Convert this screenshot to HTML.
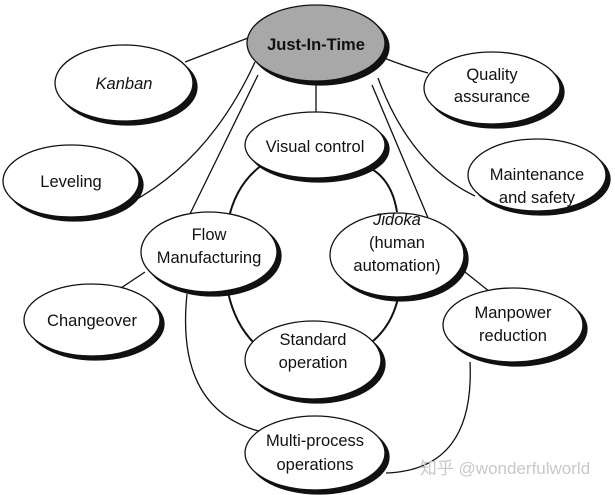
<!DOCTYPE html>
<html><head><meta charset="utf-8"><style>
html,body{margin:0;padding:0;background:#fff;}
svg{display:block;}
text{font-family:"Liberation Sans","Noto Sans CJK SC",sans-serif;font-size:16.5px;fill:#111;text-anchor:middle;}
</style></head><body>
<svg width="615" height="495" viewBox="0 0 615 495" xmlns="http://www.w3.org/2000/svg">
<g fill="none" stroke="#111">
<g stroke-width="1.3">
<path d="M248,38 L185,62"/>
<path d="M255,62 Q210,160 130,203"/>
<path d="M258,75 L188,218"/>
<path d="M316,82 L316,112"/>
<path d="M372,85 L434,232"/>
<path d="M384,58 Q410,68 428,73"/>
<path d="M378,78 Q410,165 475,196"/>
<path d="M145,272 L118,290"/>
<path d="M460,268 L490,292"/>
<path d="M187,294 Q175,410 262,432"/>
<path d="M470,362 Q475,470 386,473"/>
</g>
<g stroke-width="2">
<path d="M262,165 Q235,185 228,222"/>
<path d="M370,168 Q392,180 397,212"/>
<path d="M228,292 Q235,325 256,345"/>
<path d="M398,298 Q392,325 372,342"/>
</g>
</g>
<g stroke="#111" stroke-width="1.3">
<ellipse cx="320" cy="47" rx="69" ry="38" fill="#111"/><ellipse cx="316" cy="43" rx="69" ry="38" fill="#a8a8a8"/>
<ellipse cx="128" cy="87" rx="69" ry="38" fill="#111"/><ellipse cx="124" cy="83" rx="69" ry="38" fill="#fff"/>
<ellipse cx="496" cy="92" rx="68" ry="36" fill="#111"/><ellipse cx="492" cy="88" rx="68" ry="36" fill="#fff"/>
<ellipse cx="319" cy="149" rx="70" ry="33" fill="#111"/><ellipse cx="315" cy="145" rx="70" ry="33" fill="#fff"/>
<ellipse cx="75" cy="185" rx="68" ry="36" fill="#111"/><ellipse cx="71" cy="181" rx="68" ry="36" fill="#fff"/>
<ellipse cx="541" cy="179" rx="69" ry="36" fill="#111"/><ellipse cx="537" cy="175" rx="69" ry="36" fill="#fff"/>
<ellipse cx="213" cy="256" rx="68" ry="40" fill="#111"/><ellipse cx="209" cy="252" rx="68" ry="40" fill="#fff"/>
<ellipse cx="401" cy="259" rx="67" ry="42" fill="#111"/><ellipse cx="397" cy="255" rx="67" ry="42" fill="#fff"/>
<ellipse cx="96" cy="324" rx="68" ry="36" fill="#111"/><ellipse cx="92" cy="320" rx="68" ry="36" fill="#fff"/>
<ellipse cx="517" cy="329" rx="70" ry="37" fill="#111"/><ellipse cx="513" cy="325" rx="70" ry="37" fill="#fff"/>
<ellipse cx="317" cy="364" rx="68" ry="39" fill="#111"/><ellipse cx="313" cy="360" rx="68" ry="39" fill="#fff"/>
<ellipse cx="319" cy="457" rx="70" ry="37" fill="#111"/><ellipse cx="315" cy="453" rx="70" ry="37" fill="#fff"/>
</g>
<text x="316" y="50" font-weight="bold">Just-In-Time</text>
<text x="124" y="89" font-style="italic">Kanban</text>
<text x="492" y="80">Quality</text><text x="492" y="102">assurance</text>
<text x="315" y="152">Visual control</text>
<text x="71" y="187">Leveling</text>
<text x="537" y="180">Maintenance</text><text x="537" y="203">and safety</text>
<text x="209" y="240">Flow</text><text x="209" y="263">Manufacturing</text>
<text x="397" y="225" font-style="italic">Jidoka</text><text x="397" y="248">(human</text><text x="397" y="271">automation)</text>
<text x="92" y="326">Changeover</text>
<text x="513" y="318">Manpower</text><text x="513" y="341">reduction</text>
<text x="313" y="345">Standard</text><text x="313" y="368">operation</text>
<text x="315" y="446">Multi-process</text><text x="315" y="470">operations</text>
<text x="505" y="474" style="fill:#c8c8c8;font-size:17px">知乎 @wonderfulworld</text>
</svg>
</body></html>
